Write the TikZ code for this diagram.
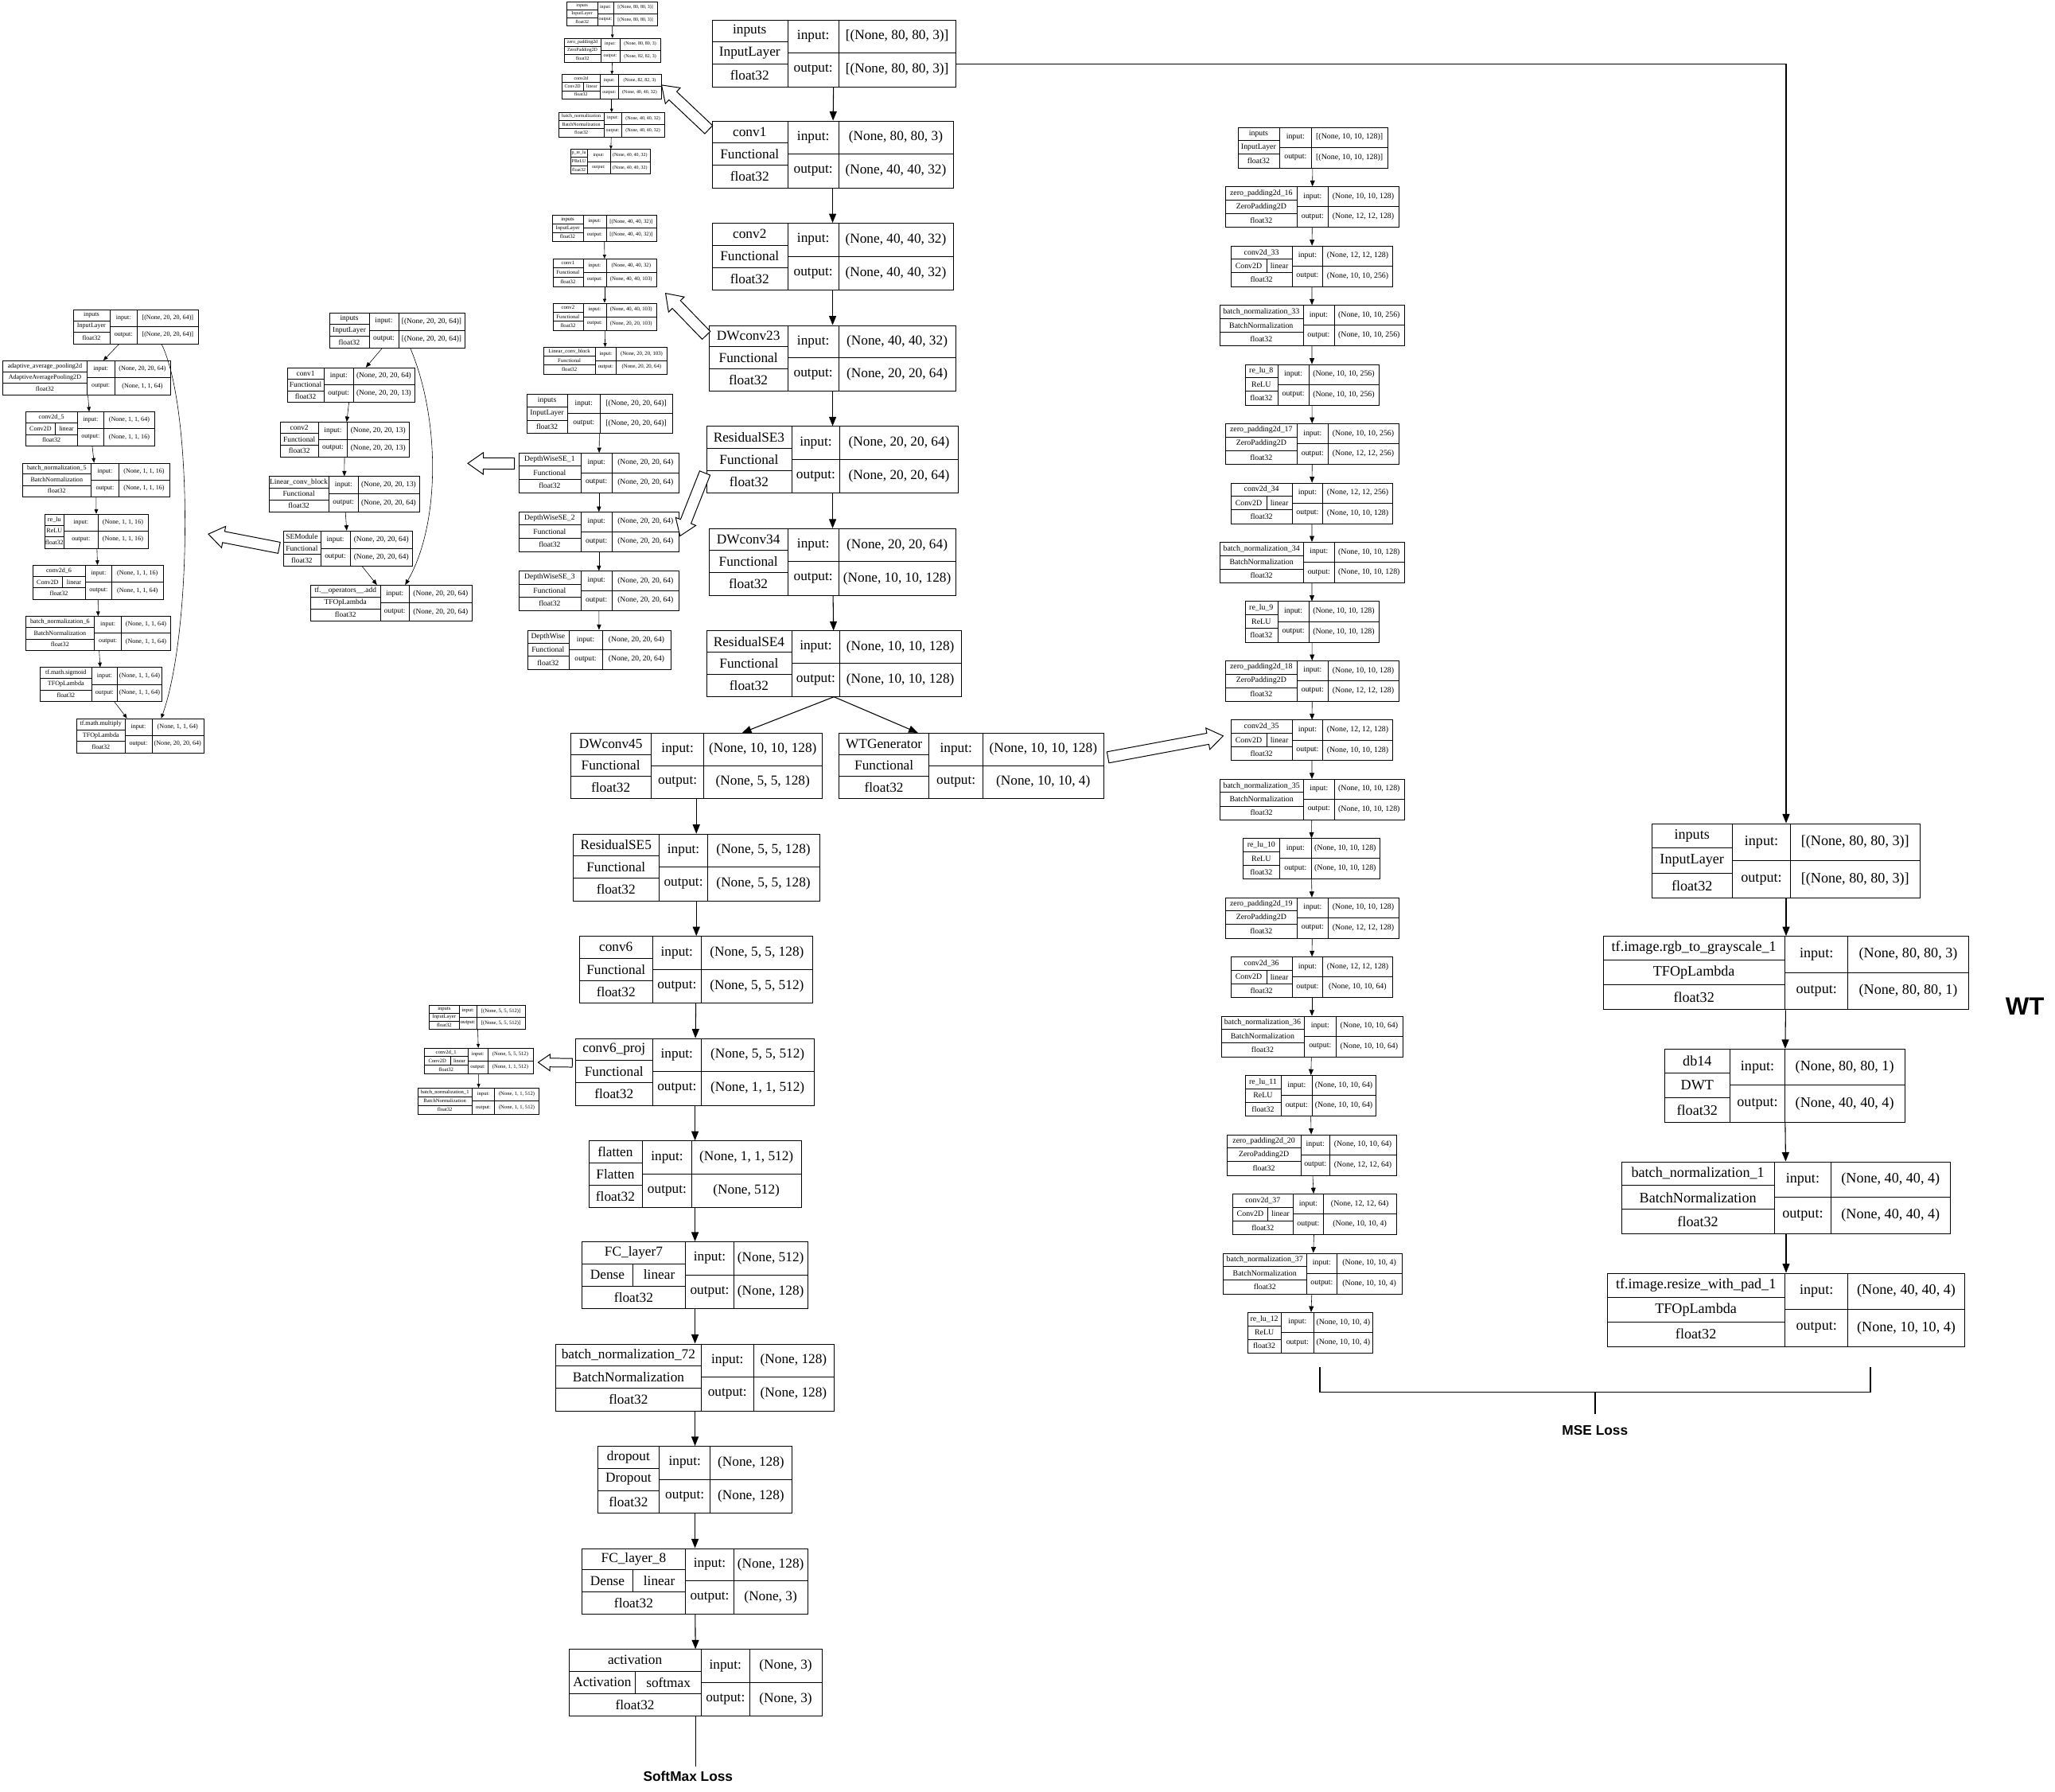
\documentclass[tikz,border=0pt]{standalone}
\usepackage{fontspec}
\setmainfont{Liberation Serif}
\newfontfamily\lblfont{Liberation Sans}
\usepackage{tikz}
\usetikzlibrary{arrows.meta, shapes.arrows}

\def\getdims#1/#2/#3/#4\relax{\def\recL{#1}\def\recM{#2}\def\recR{#3}\def\recH{#4}}

% #1 name, #2 top left, #3 left/mid/right/height, #4 title, #5 input, #6 output
\newcommand{\layerbase}[6]{%
  \getdims#3\relax
  \node[recbox, minimum width={\recL+\recM+\recR}, minimum height=\recH] (#1) at (#2) {};
  \draw[rline] ([xshift=\recL]#1.north west) -- ([xshift=\recL]#1.south west)
    ([xshift=\recL+\recM]#1.north west) -- ([xshift=\recL+\recM]#1.south west)
    ([yshift=-\recH/3]#1.north west) -- ([xshift=\recL, yshift=-\recH/3]#1.north west)
    ([yshift=-2*\recH/3]#1.north west) -- ([xshift=\recL, yshift=-2*\recH/3]#1.north west)
    ([xshift=\recL, yshift=-\recH/2]#1.north west) -- ([yshift=-\recH/2]#1.north east);
  \node[rtxt] (#1-t) at ([xshift=\recL/2, yshift=-\recH/6]#1.north west) {#4};
  \node[rtxt] (#1-d) at ([xshift=\recL/2, yshift=-5*\recH/6]#1.north west) {float32};
  \node[rtxt] (#1-i) at ([xshift=\recL+\recM/2, yshift=-\recH/4]#1.north west) {input:};
  \node[rtxt] (#1-o) at ([xshift=\recL+\recM/2, yshift=-3*\recH/4]#1.north west) {output:};
  \node[rtxt] (#1-iv) at ([xshift=\recL+\recM+\recR/2, yshift=-\recH/4]#1.north west) {#5};
  \node[rtxt] (#1-ov) at ([xshift=\recL+\recM+\recR/2, yshift=-3*\recH/4]#1.north west) {#6};
}
\newcommand{\layer}[7]{%
  \layerbase{#1}{#2}{#3}{#4}{#6}{#7}%
  \node[rtxt] (#1-c) at ([xshift=\recL/2, yshift=-\recH/2]#1.north west) {#5};
}
\newcommand{\layersplit}[9]{%
  \layerbase{#1}{#2}{#3}{#4}{#8}{#9}%
  \draw[rline] ([xshift=#7, yshift=-\recH/3]#1.north west) -- ([xshift=#7, yshift=-2*\recH/3]#1.north west);
  \node[rtxt] (#1-c) at ([xshift=#7/2, yshift=-\recH/2]#1.north west) {#5};
  \node[rtxt] (#1-a) at ([xshift={(#7+\recL)/2}, yshift=-\recH/2]#1.north west) {#6};
}

\begin{document}
\begin{tikzpicture}[x=1pt, y=-1pt,
  recbox/.style={draw, line width=\reclw, inner sep=0pt, anchor=north west},
  rline/.style={line width=\reclw},
  rtxt/.style={font=\recfont, inner sep=0pt},
  mainarr/.style={-{Triangle[length=7pt, width=5.5pt]}, line width=0.65pt},
  subarr/.style 2 args={-{Triangle[length=#1, width=#2]}, line width=0.35pt},
  bigarrow/.style={draw, fill=white, single arrow, single arrow head extend=4pt, single arrow tip angle=70, inner xsep=0pt, inner ysep=4pt, sloped, allow upside down, line width=0.6pt},
  losslbl/.style={font=\lblfont\bfseries\fontsize{10.5}{12}\selectfont},
  lossline/.style={line width=1pt}]

\useasboundingbox (0,0) rectangle (1568,1366.5);

% main model
\def\recfont{\fontsize{10.5}{12.6}\selectfont}\def\reclw{0.6pt}
\layer{M0}{543,15}{58/39/89/51}{inputs}{InputLayer}{[(None, 80, 80, 3)]}{[(None, 80, 80, 3)]}
\layer{M1}{543,92}{58/39/87/51}{conv1}{Functional}{(None, 80, 80, 3)}{(None, 40, 40, 32)}
\layer{M2}{543,170}{58/39/87/51}{conv2}{Functional}{(None, 40, 40, 32)}{(None, 40, 40, 32)}
\layer{M3}{541,248}{60/39/89/50}{DWconv23}{Functional}{(None, 40, 40, 32)}{(None, 20, 20, 64)}
\layer{M4}{539,325}{65/37/90/51}{ResidualSE3}{Functional}{(None, 20, 20, 64)}{(None, 20, 20, 64)}
\layer{M5}{541,403}{60/39/89/51}{DWconv34}{Functional}{(None, 20, 20, 64)}{(None, 10, 10, 128)}
\layer{M6}{539,481}{65/37/92/50}{ResidualSE4}{Functional}{(None, 10, 10, 128)}{(None, 10, 10, 128)}
\layer{M7}{435,559}{62/40/90/50}{DWconv45}{Functional}{(None, 10, 10, 128)}{(None, 5, 5, 128)}
\layer{M8}{640,559}{69/41/92/50}{WTGenerator}{Functional}{(None, 10, 10, 128)}{(None, 10, 10, 4)}
\layer{M9}{437,636}{66/37/85/51}{ResidualSE5}{Functional}{(None, 5, 5, 128)}{(None, 5, 5, 128)}
\layer{M10}{442,714}{56/37/85/51}{conv6}{Functional}{(None, 5, 5, 128)}{(None, 5, 5, 512)}
\layer{M11}{439,792}{59/37/86/51}{conv6\_proj}{Functional}{(None, 5, 5, 512)}{(None, 1, 1, 512)}
\layer{M12}{449,870}{41/38/83/51}{flatten}{Flatten}{(None, 1, 1, 512)}{(None, 512)}
\layersplit{M13}{444,947}{79/37/56/51}{FC\_layer7}{Dense}{linear}{39}{(None, 512)}{(None, 128)}
\layer{M14}{424,1025}{111/40/61/51}{batch\_normalization\_72}{BatchNormalization}{(None, 128)}{(None, 128)}
\layer{M15}{456,1103}{47/39/62/51}{dropout}{Dropout}{(None, 128)}{(None, 128)}
\layersplit{M16}{444,1181}{79/37/56/50}{FC\_layer\_8}{Dense}{linear}{39}{(None, 128)}{(None, 3)}
\layersplit{M17}{434,1258}{101/37/55/51}{activation}{Activation}{softmax}{51}{(None, 3)}{(None, 3)}

% WT branch
\def\recfont{\fontsize{11}{13}\selectfont}
\layer{R1}{1260,628}{62/44/99/57}{inputs}{InputLayer}{[(None, 80, 80, 3)]}{[(None, 80, 80, 3)]}
\layer{R2}{1223,714}{139/48/92/56}{tf.image.rgb\_to\_grayscale\_1}{TFOpLambda}{(None, 80, 80, 3)}{(None, 80, 80, 1)}
\layer{R3}{1270,800}{50/42/91/56}{db14}{DWT}{(None, 80, 80, 1)}{(None, 40, 40, 4)}
\layer{R4}{1237,886}{117/43/91/55}{batch\_normalization\_1}{BatchNormalization}{(None, 40, 40, 4)}{(None, 40, 40, 4)}
\layer{R5}{1226,971}{136/48/89/56}{tf.image.resize\_with\_pad\_1}{TFOpLambda}{(None, 40, 40, 4)}{(None, 10, 10, 4)}

% WTGenerator
\def\recfont{\fontsize{6}{7}\selectfont}\def\reclw{0.45pt}
\layer{G1}{944.5,97}{31.6/24.7/57.7/31}{inputs}{InputLayer}{[(None, 10, 10, 128)]}{[(None, 10, 10, 128)]}
\layer{G2}{935,142.2}{54.7/23.6/53.7/31}{zero\_padding2d\_16}{ZeroPadding2D}{(None, 10, 10, 128)}{(None, 12, 12, 128)}
\layersplit{G3}{939.1,187.4}{46.9/23.3/53.2/31}{conv2d\_33}{Conv2D}{linear}{27.3}{(None, 12, 12, 128)}{(None, 10, 10, 256)}
\layer{G4}{930.4,232.6}{63.9/23.7/53.2/31}{batch\_normalization\_33}{BatchNormalization}{(None, 10, 10, 256)}{(None, 10, 10, 256)}
\layer{G5}{949.8,277.8}{25.1/23.9/53/31}{re\_lu\_8}{ReLU}{(None, 10, 10, 256)}{(None, 10, 10, 256)}
\layer{G6}{935,323}{54.7/23.6/53.7/31}{zero\_padding2d\_17}{ZeroPadding2D}{(None, 10, 10, 256)}{(None, 12, 12, 256)}
\layersplit{G7}{939.1,368.2}{46.9/23.3/53.2/31}{conv2d\_34}{Conv2D}{linear}{27.3}{(None, 12, 12, 256)}{(None, 10, 10, 128)}
\layer{G8}{930.4,413.4}{64.3/23.3/53.2/31}{batch\_normalization\_34}{BatchNormalization}{(None, 10, 10, 128)}{(None, 10, 10, 128)}
\layer{G9}{949.8,458.6}{25.1/23.9/53/31}{re\_lu\_9}{ReLU}{(None, 10, 10, 128)}{(None, 10, 10, 128)}
\layer{G10}{935,503.8}{54.7/23.6/53.7/31}{zero\_padding2d\_18}{ZeroPadding2D}{(None, 10, 10, 128)}{(None, 12, 12, 128)}
\layersplit{G11}{939.1,549}{46.9/23.3/53.2/31}{conv2d\_35}{Conv2D}{linear}{27.3}{(None, 12, 12, 128)}{(None, 10, 10, 128)}
\layer{G12}{930.4,594.2}{64.3/23.3/53.2/31}{batch\_normalization\_35}{BatchNormalization}{(None, 10, 10, 128)}{(None, 10, 10, 128)}
\layer{G13}{948.2,639.4}{28.3/23.9/52/31}{re\_lu\_10}{ReLU}{(None, 10, 10, 128)}{(None, 10, 10, 128)}
\layer{G14}{935,684.6}{54.7/23.6/53.7/31}{zero\_padding2d\_19}{ZeroPadding2D}{(None, 10, 10, 128)}{(None, 12, 12, 128)}
\layersplit{G15}{939.1,729.8}{46.9/23.3/53.2/31}{conv2d\_36}{Conv2D}{linear}{27.3}{(None, 12, 12, 128)}{(None, 10, 10, 64)}
\layer{G16}{931.6,775}{63.5/24.3/50.6/31}{batch\_normalization\_36}{BatchNormalization}{(None, 10, 10, 64)}{(None, 10, 10, 64)}
\layer{G17}{949.8,820.2}{27.7/23.7/48.2/31}{re\_lu\_11}{ReLU}{(None, 10, 10, 64)}{(None, 10, 10, 64)}
\layer{G18}{936,865.4}{56.7/21.8/50.7/31}{zero\_padding2d\_20}{ZeroPadding2D}{(None, 10, 10, 64)}{(None, 12, 12, 64)}
\layersplit{G19}{940.5,910.6}{46.1/23.3/55.3/31}{conv2d\_37}{Conv2D}{linear}{26.9}{(None, 12, 12, 64)}{(None, 10, 10, 4)}
\layer{G20}{933,955.8}{64.1/22.9/49.6/31}{batch\_normalization\_37}{BatchNormalization}{(None, 10, 10, 4)}{(None, 10, 10, 4)}
\layer{G21}{951.8,1001}{25.7/24.9/44.9/31}{re\_lu\_12}{ReLU}{(None, 10, 10, 4)}{(None, 10, 10, 4)}

% conv1
\def\recfont{\fontsize{3.6}{4.2}\selectfont}\def\reclw{0.35pt}
\layer{A1}{432.5,1}{23.3/12.3/33.4/18.6}{inputs}{InputLayer}{[(None, 80, 80, 3)]}{[(None, 80, 80, 3)]}
\layer{A2}{430.5,29}{27.8/14.6/31/18.6}{zero\_padding2d}{ZeroPadding2D}{(None, 80, 80, 3)}{(None, 82, 82, 3)}
\layersplit{A3}{428.6,56.7}{29.4/13.7/32.7/18.6}{conv2d}{Conv2D}{linear}{16.6}{(None, 82, 82, 3)}{(None, 40, 40, 32)}
\layer{A4}{426,85.6}{35/13/33/18.6}{batch\_normalization}{BatchNormalization}{(None, 40, 40, 32)}{(None, 40, 40, 32)}
\layer{A5}{435.4,113.7}{12.6/17.5/30.3/18.9}{p\_re\_lu}{PReLU}{(None, 40, 40, 32)}{(None, 40, 40, 32)}

% DWconv23
\def\recfont{\fontsize{4.1}{4.8}\selectfont}
\layer{B1}{421.3,164}{23.7/17.5/38.1/20}{inputs}{InputLayer}{[(None, 40, 40, 32)]}{[(None, 40, 40, 32)]}
\layer{B2}{421.7,197.3}{23.3/17.5/38.1/21}{conv1}{Functional}{(None, 40, 40, 32)}{(None, 40, 40, 103)}
\layer{B3}{421.7,231}{23.3/17.5/38.1/21}{conv2}{Functional}{(None, 40, 40, 103)}{(None, 20, 20, 103)}
\layer{B4}{414.7,264.7}{39.4/16.2/38.5/20.5}{Linear\_conv\_block}{Functional}{(None, 20, 20, 103)}{(None, 20, 20, 64)}

% ResidualSE3
\def\recfont{\fontsize{5.8}{6.8}\selectfont}
\layer{C1}{401.7,300.5}{31.4/24.7/55.2/30}{inputs}{InputLayer}{[(None, 20, 20, 64)]}{[(None, 20, 20, 64)]}
\layer{C2}{395.6,345.5}{47.6/23.8/51/30}{DepthWiseSE\_1}{Functional}{(None, 20, 20, 64)}{(None, 20, 20, 64)}
\layer{C3}{395.6,390.5}{47.6/23.8/51/30}{DepthWiseSE\_2}{Functional}{(None, 20, 20, 64)}{(None, 20, 20, 64)}
\layer{C4}{395.6,435.5}{47.6/23.8/51/30}{DepthWiseSE\_3}{Functional}{(None, 20, 20, 64)}{(None, 20, 20, 64)}
\layer{C5}{402.3,480.5}{31.7/25.6/52/30}{DepthWise}{Functional}{(None, 20, 20, 64)}{(None, 20, 20, 64)}

% DepthWiseSE_1
\def\recfont{\fontsize{5.7}{6.7}\selectfont}
\layer{D1}{251.3,238.4}{30.4/22.3/50.6/27}{inputs}{InputLayer}{[(None, 20, 20, 64)]}{[(None, 20, 20, 64)]}
\layer{D2}{219,280.3}{28.3/22.3/46.5/26.5}{conv1}{Functional}{(None, 20, 20, 64)}{(None, 20, 20, 13)}
\layer{D3}{213.7,321.8}{29.3/22/47/26.5}{conv2}{Functional}{(None, 20, 20, 13)}{(None, 20, 20, 13)}
\layer{D4}{205,363.3}{46/22.2/46.6/27}{Linear\_conv\_block}{Functional}{(None, 20, 20, 13)}{(None, 20, 20, 64)}
\layer{D5}{216,404.8}{28.6/22.6/47.5/27}{SEModule}{Functional}{(None, 20, 20, 64)}{(None, 20, 20, 64)}
\layer{D6}{236.8,446.2}{53.5/21.9/48/27.4}{tf.\_\_operators\_\_.add}{TFOpLambda}{(None, 20, 20, 64)}{(None, 20, 20, 64)}

% SEModule
\def\recfont{\fontsize{4.9}{5.8}\selectfont}
\layer{E1}{55.8,236}{27.9/21.1/46.4/26}{inputs}{InputLayer}{[(None, 20, 20, 64)]}{[(None, 20, 20, 64)]}
\layer{E2}{2,275}{64.5/20.8/42.7/26}{adaptive\_average\_pooling2d}{AdaptiveAveragePooling2D}{(None, 20, 20, 64)}{(None, 1, 1, 64)}
\layersplit{E3}{19.5,314}{39.5/20.2/38.8/26}{conv2d\_5}{Conv2D}{linear}{22.8}{(None, 1, 1, 64)}{(None, 1, 1, 16)}
\layer{E4}{17.1,353}{52.4/21.2/38.3/26}{batch\_normalization\_5}{BatchNormalization}{(None, 1, 1, 16)}{(None, 1, 1, 16)}
\layer{E5}{33.9,392}{15.1/25.6/38.3/26}{re\_lu}{ReLU}{(None, 1, 1, 16)}{(None, 1, 1, 16)}
\layersplit{E6}{24.8,431}{40.3/20.2/39.1/26}{conv2d\_6}{Conv2D}{linear}{23}{(None, 1, 1, 16)}{(None, 1, 1, 64)}
\layer{E7}{19.5,470}{52.5/20.7/37.3/26}{batch\_normalization\_6}{BatchNormalization}{(None, 1, 1, 64)}{(None, 1, 1, 64)}
\layer{E8}{30.5,509}{39.5/19.5/34/26}{tf.math.sigmoid}{TFOpLambda}{(None, 1, 1, 64)}{(None, 1, 1, 64)}
\layer{E9}{58.5,548}{36.9/20.5/39.3/26}{tf.math.multiply}{TFOpLambda}{(None, 1, 1, 64)}{(None, 20, 20, 64)}

% conv6_proj
\def\recfont{\fontsize{4}{4.7}\selectfont}
\layer{F1}{327.4,766.6}{23.1/13.2/37/18.6}{inputs}{InputLayer}{[(None, 5, 5, 512)]}{[(None, 5, 5, 512)]}
\layersplit{F2}{323.4,799.4}{33.8/14.8/34.8/19.8}{conv2d\_1}{Conv2D}{linear}{20.6}{(None, 5, 5, 512)}{(None, 1, 1, 512)}
\layer{F3}{318.7,829.8}{41.5/17.2/33.8/20.2}{batch\_normalization\_1}{BatchNormalization}{(None, 1, 1, 512)}{(None, 1, 1, 512)}

\path[mainarr]
  (M0) edge (M1) (M1) edge (M2) (M2) edge (M3) (M3) edge (M4) (M4) edge (M5) (M5) edge (M6)
  (M6.south) edge ([xshift=35pt]M7.north) (M6.south) edge ([xshift=-41pt]M8.north)
  (M7) edge (M9) (M9) edge (M10) (M10) edge (M11) (M11) edge (M12) (M12) edge (M13)
  (M13) edge (M14) (M14) edge (M15) (M15) edge (M16) (M16) edge (M17)
  (R1) edge (R2) (R2) edge (R3) (R3) edge (R4) (R4) edge (R5);
\draw[mainarr] ([yshift=-8pt]M0.east) -| (R1.north);

\path[subarr={4.5pt}{3.6pt}]
  (G1) edge (G2) (G2) edge (G3) (G3) edge (G4) (G4) edge (G5) (G5) edge (G6) (G6) edge (G7)
  (G7) edge (G8) (G8) edge (G9) (G9) edge (G10) (G10) edge (G11) (G11) edge (G12) (G12) edge (G13)
  (G13) edge (G14) (G14) edge (G15) (G15) edge (G16) (G16) edge (G17) (G17) edge (G18)
  (G18) edge (G19) (G19) edge (G20) (G20) edge (G21);
\path[subarr={2.6pt}{2.2pt}] (A1) edge (A2) (A2) edge (A3) (A3) edge (A4) (A4) edge (A5);
\path[subarr={3pt}{2.5pt}] (B1) edge (B2) (B2) edge (B3) (B3) edge (B4);
\path[subarr={4pt}{3.2pt}] (C1) edge (C2) (C2) edge (C3) (C3) edge (C4) (C4) edge (C5);
\path[subarr={4pt}{3.2pt}] (D1) edge (D2) (D2) edge (D3) (D3) edge (D4) (D4) edge (D5) (D5) edge (D6);
\draw[subarr={4pt}{3.2pt}] ([xshift=10pt]D1.south) .. controls (336,320) and (336,400) .. ([xshift=10.5pt]D6.north);
\path[subarr={3.5pt}{2.8pt}] (E1) edge (E2) (E2) edge (E3) (E3) edge (E4) (E4) edge (E5)
  (E5) edge (E6) (E6) edge (E7) (E7) edge (E8) (E8) edge (E9);
\draw[subarr={3.5pt}{2.8pt}] ([xshift=19.5pt]E1.south) .. controls (147,310) and (147,480) .. ([xshift=16pt]E9.north);
\path[subarr={3pt}{2.5pt}] (F1) edge (F2) (F2) edge (F3);

\coordinate (t1) at (507,67);
\coordinate (t2) at (510,226);
\coordinate (t3) at (520,406);
\coordinate (t4) at (360,353.5);
\coordinate (t5) at (162,408);
\coordinate (t6) at (413,810.5);
\coordinate (t7) at (930,562);
\path ([yshift=-9pt]M1.north west) -- node[bigarrow, minimum height=49.5pt] {} (t1);
\path ([yshift=-10pt]M3.north west) -- node[bigarrow, minimum height=44.6pt] {} (t2);
\path ([yshift=-33pt]M4.north west) -- node[bigarrow, minimum height=51.6pt] {} (t3);
\path ([yshift=7pt]C2.west) -- node[bigarrow, minimum height=35.6pt] {} (t4);
\path (D5.west) -- node[bigarrow, minimum height=55pt] {} (t5);
\path ([yshift=7pt]M11.west) -- node[bigarrow, inner ysep=3pt, single arrow head extend=3pt, minimum height=26pt] {} (t6);
\path ([yshift=6pt]M8.east) -- node[bigarrow, minimum height=89.4pt] {} (t7);

\node[losslbl] (sml) at (525,1355) {SoftMax Loss};
\draw[line width=0.65pt] (M17.south) -- (M17.south |- sml.north);

\node[losslbl, font=\lblfont\bfseries\fontsize{19}{22}\selectfont] (wt) at (1545,768) {WT};

\node[losslbl] (mse) at (1217,1091) {MSE Loss};
\coordinate (bl) at (1007,1043);
\coordinate (br) at (1427,1043);
\coordinate (bm) at (1217,1062);
\draw[lossline] (bl) |- (br |- bm) -- (br);
\draw[lossline] (bm) -- ([yshift=5pt]mse.north);

\end{tikzpicture}
\end{document}
